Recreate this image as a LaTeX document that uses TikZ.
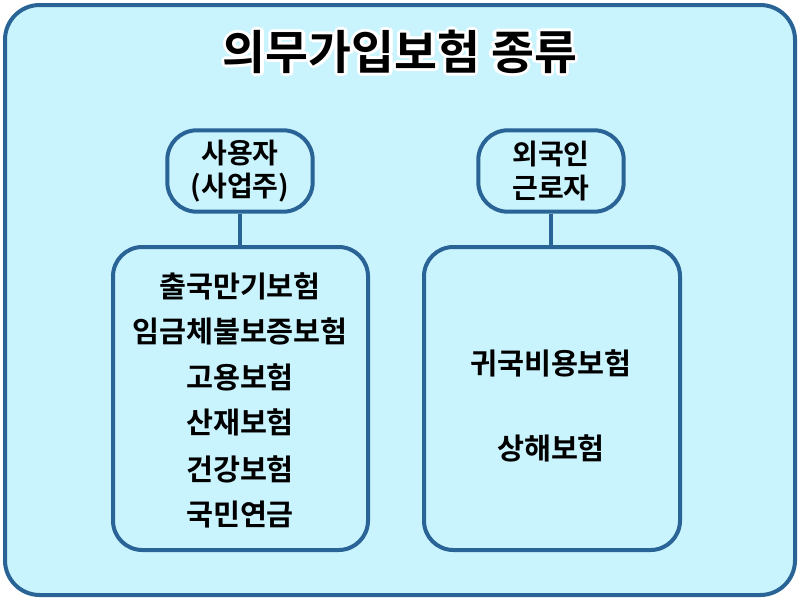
\documentclass[tikz,border=0pt]{standalone}
\usepackage{fontspec}
\setmainfont{Noto Sans CJK KR}[BoldFont={Noto Sans CJK KR Bold}]
\definecolor{bgblue}{HTML}{C9F3FD}
\definecolor{edgeblue}{HTML}{2A6496}
\tikzset{
  box/.style={draw=edgeblue, line width=3pt, rounded corners=22pt},
  pill/.style={draw=edgeblue, line width=3pt, fill=bgblue, rounded corners=22pt, minimum width=109pt, minimum height=61pt, inner sep=0pt, align=center, font=\fontsize{21}{25}\selectfont\bfseries},
  item/.style={font=\fontsize{22}{25}\selectfont\bfseries}
}
\begin{document}
\begin{tikzpicture}[x=0.75pt,y=-0.75pt]
\useasboundingbox (0,0) rectangle (800,600);
% frame
\draw[box, fill=bgblue, rounded corners=26pt] (5,5) rectangle (795,595);
% title
\foreach \a in {0,45,...,315}
  \node[font=\fontsize{35}{38}\selectfont\bfseries, text=white] at ([shift={(\a:2.5pt)}]400,52) {의무가입보험 종류};
\node[font=\fontsize{35}{38}\selectfont\bfseries] (title) at (400,52) {의무가입보험 종류};
% left
\node[pill] (employer) at (240,171) {사용자\\(사업주)};
\draw[box] (113,247) rectangle (368,550);
\coordinate (lefttop) at (240,247);
\draw[edgeblue, line width=3pt] (employer.south) -- (lefttop);
\foreach \t/\y in {출국만기보험/286, 임금체불보증보험/331, 고용보험/377, 산재보험/422, 건강보험/469, 국민연금/515}
  \node[item] (l\y) at (240,\y) {\t};
% right
\node[pill] (worker) at (551,171) {외국인\\근로자};
\draw[box] (424,247) rectangle (680,550);
\coordinate (righttop) at (551,247);
\draw[edgeblue, line width=3pt] (worker.south) -- (righttop);
\node[item] (return) at (551,363) {귀국비용보험};
\node[item] (injury) at (551,448) {상해보험};
\end{tikzpicture}
\end{document}
